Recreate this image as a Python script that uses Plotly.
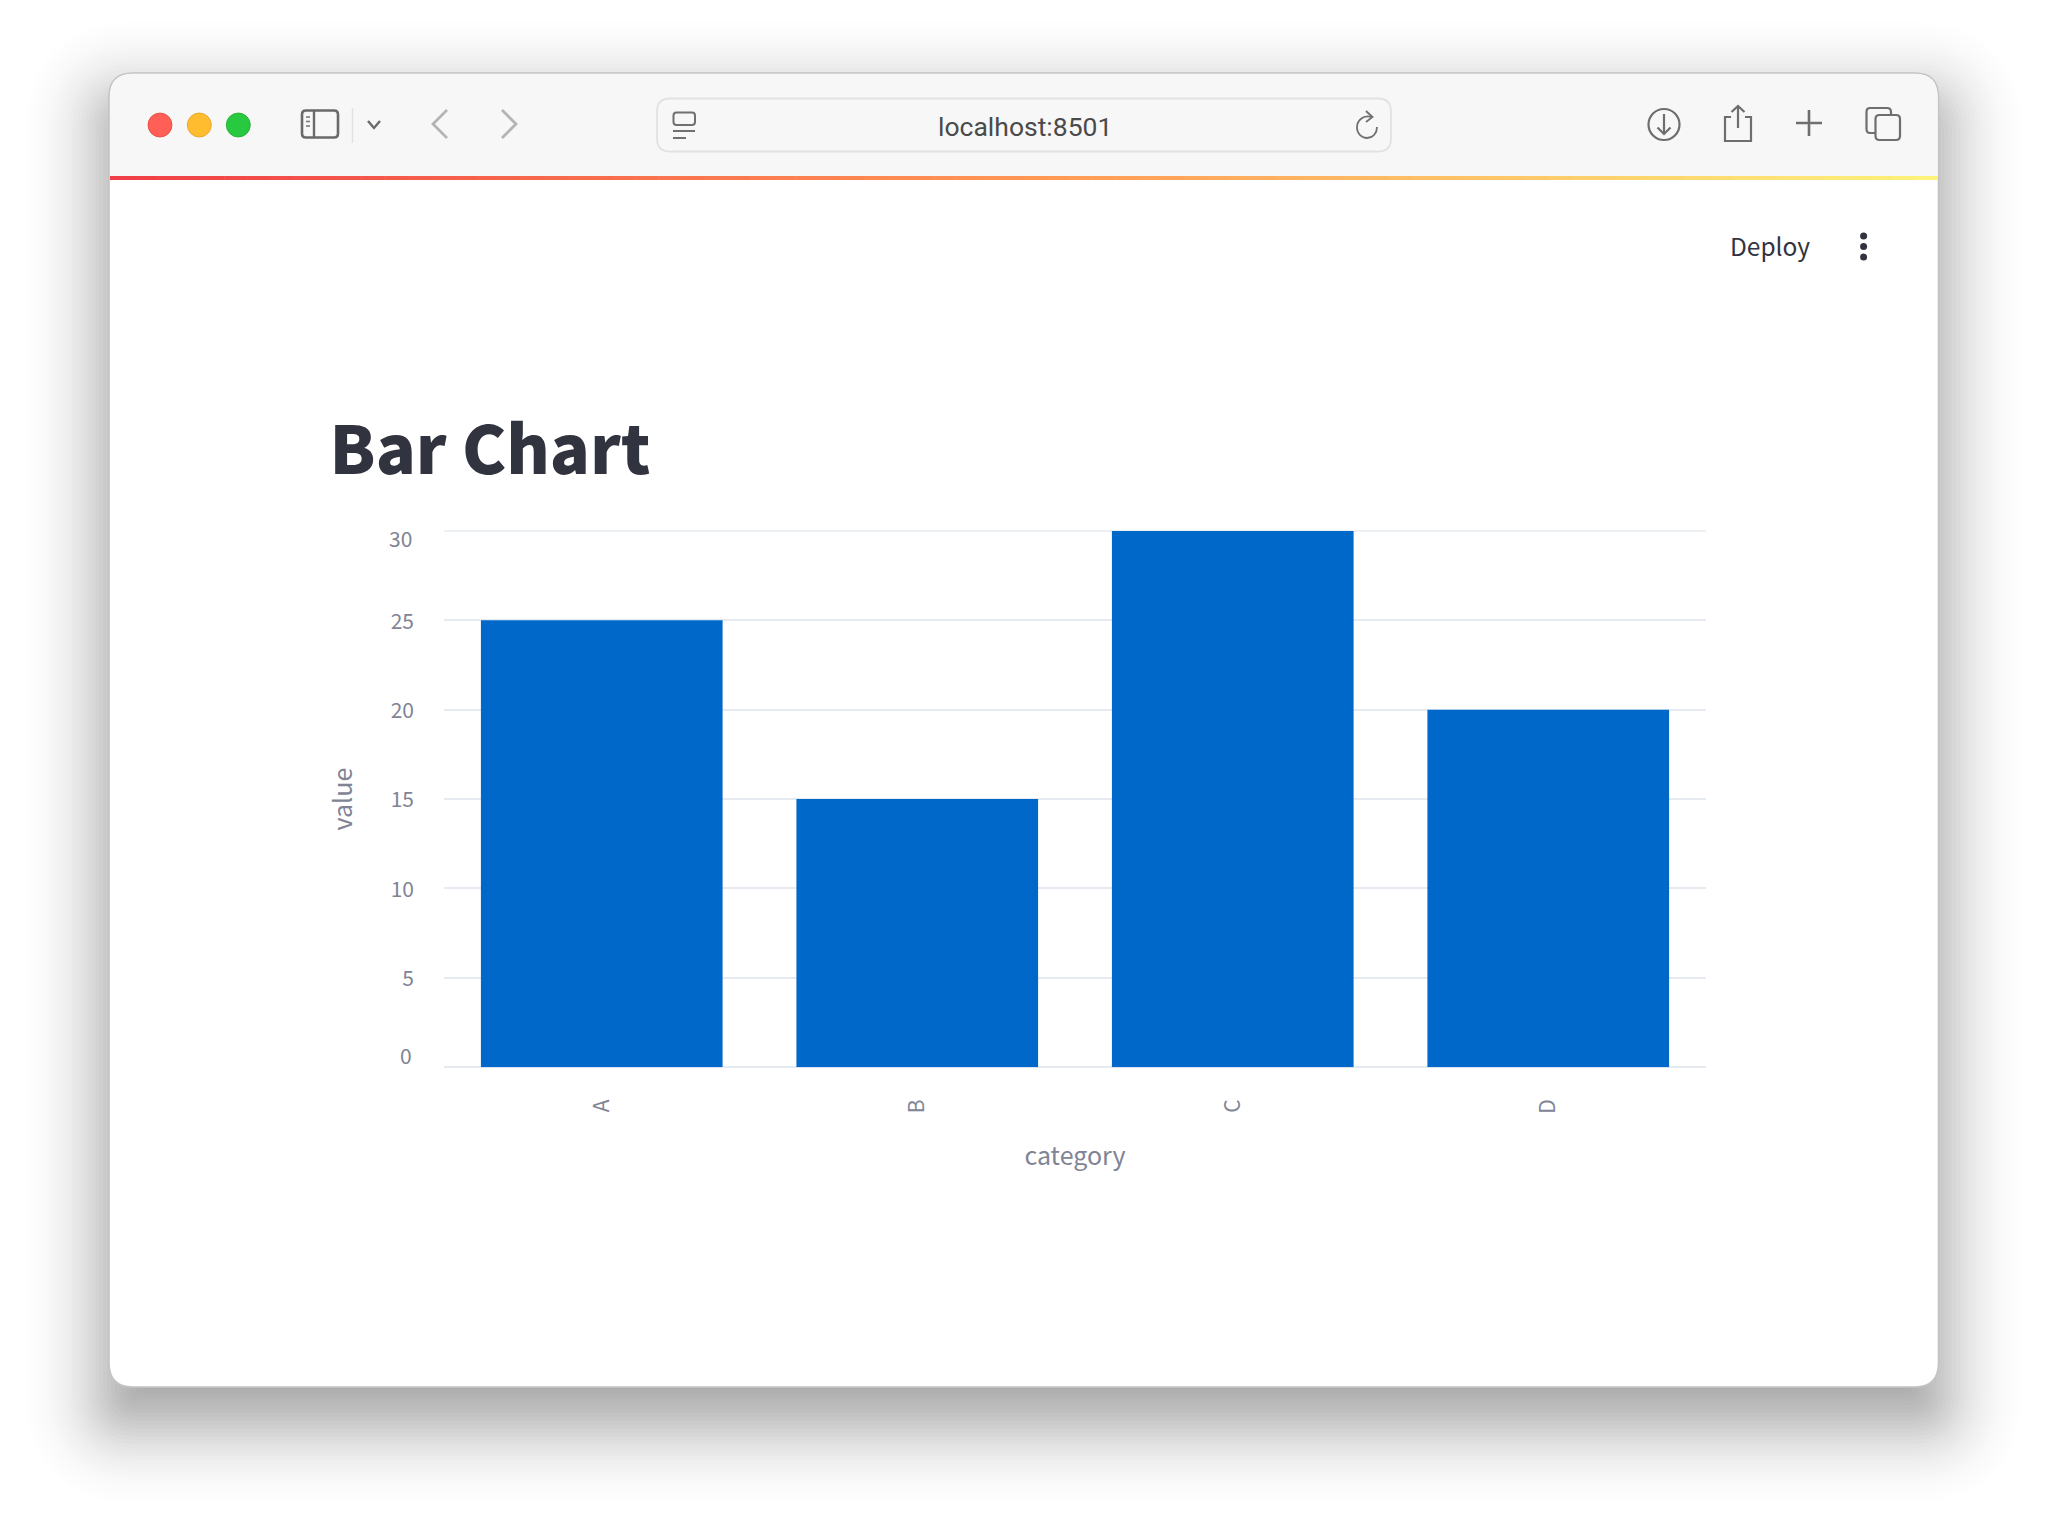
import math
import re
import plotly.graph_objects as go

# ---- chart data ----
categories = ["A", "B", "C", "D"]
values = [25, 15, 30, 20]
y_ticks = [0, 5, 10, 15, 20, 25, 30]
y_tick_labels = ["", "5", "10", "15", "20", "25", ""]
flush_ticks = [0, 30]
title_text = "Bar Chart"
x_title = "category"
y_title = "value"
url_text = "localhost:8501"
deploy_text = "Deploy"

# ---- style ----
W, H = 2048, 1532
FONT = "Noto Sans CJK SC"
BAR = "#0068c9"
GRID = "#e6eaf1"
LABEL = "#808495"
INK = "#31333f"
ICON = "#6e6e6e"
WIN = (109, 73, 1938.5, 1387)


def fx(x):
    return round(x / W, 6)


def fy(y):
    return round(1 - y / H, 6)


def pth(s):
    out, isx = [], True
    for t in re.findall(r"[A-Za-z]|-?[\d.]+", s):
        if t.isalpha():
            out.append(t)
            isx = True
        else:
            out.append(str(fx(float(t)) if isx else fy(float(t))))
            isx = not isx
    return " ".join(out)


def rr(x0, y0, x1, y1, r):
    return pth(
        f"M {x0+r} {y0} L {x1-r} {y0} Q {x1} {y0} {x1} {y0+r} L {x1} {y1-r} "
        f"Q {x1} {y1} {x1-r} {y1} L {x0+r} {y1} Q {x0} {y1} {x0} {y1-r} "
        f"L {x0} {y0+r} Q {x0} {y0} {x0+r} {y0} Z"
    )


shapes = []


def fill_path(path, color, opacity=1.0):
    shapes.append(dict(type="path", xref="paper", yref="paper", path=path, fillcolor=color,
                       opacity=opacity, line=dict(width=0), layer="below"))


def stroke(path, color=ICON, width=2.2, fill="rgba(0,0,0,0)"):
    shapes.append(dict(type="path", xref="paper", yref="paper", path=path, fillcolor=fill,
                       line=dict(color=color, width=width), layer="below"))


def circle(cx, cy, r, color, line=None, width=0):
    shapes.append(dict(type="circle", xref="paper", yref="paper",
                       x0=fx(cx - r), x1=fx(cx + r), y0=fy(cy + r), y1=fy(cy - r),
                       fillcolor=color, line=dict(color=line or color, width=width), layer="below"))


# window shadow, as a stack of soft rounded rectangles
sigma, peak, off, n = 42, 0.45, 32, 60
phi = lambda z: 0.5 * (1 + math.erf(z / math.sqrt(2)))
for i in range(n):
    z0 = 2.8 - 5.6 * i / n
    z1 = 2.8 - 5.6 * (i + 1) / n
    a = peak * (phi(-z1) - phi(-z0))
    d = sigma * (z0 + z1) / 2
    fill_path(rr(WIN[0] - d, WIN[1] + off - d, WIN[2] + d, WIN[3] + off + d, max(8, 30 + d)), "#000000", a)

# window body and toolbar
x0, y0, x1, y1 = WIN
stroke(rr(x0, y0, x1, y1, 24), "#c4c4c4", 1.6, "#ffffff")
fill_path(pth(f"M {x0+24} {y0+1} L {x1-24} {y0+1} Q {x1-1} {y0+1} {x1-1} {y0+24} L {x1-1} 177 L {x0+1} 177 L {x0+1} {y0+24} Q {x0+1} {y0+1} {x0+24} {y0+1} Z"), "#f7f7f7")

# gradient strip under the toolbar
stops = [(0.0, (240, 62, 70)), (0.5, (255, 150, 84)), (1.0, (253, 243, 122))]
segs = 80
for i in range(segs):
    t = (i + 0.5) / segs
    a, b = (stops[0], stops[1]) if t < 0.5 else (stops[1], stops[2])
    u = (t - a[0]) / (b[0] - a[0])
    c = tuple(round(a[1][k] + (b[1][k] - a[1][k]) * u) for k in range(3))
    xa = x0 + 1 + (x1 - x0 - 2) * i / segs
    xb = x0 + 1 + (x1 - x0 - 2) * (i + 1) / segs + 0.5
    fill_path(pth(f"M {xa} 176 L {xb} 176 L {xb} 180 L {xa} 180 Z"), f"rgb{c}")

# traffic lights
circle(160, 125, 12, "#ff5f57", "#e2463f", 0.8)
circle(199.3, 125, 12, "#febc2e", "#dfa023", 0.8)
circle(238.3, 125, 12, "#28c840", "#1aab29", 0.8)

# sidebar button, separator, chevrons
stroke(rr(302, 110.5, 338, 137.5, 4), "#6a6a6a", 2.6)
stroke(pth("M 314 111 L 314 137"), "#6a6a6a", 2.4)
for yy in (117, 121.5, 126):
    stroke(pth(f"M 306 {yy} L 310 {yy}"), "#7a7a7a", 1.6)
stroke(pth("M 352.5 108 L 352.5 143"), "#e2e2e2", 1.4)
stroke(pth("M 368 121 L 374 128 L 380 121"), "#6a6a6a", 2.4)
stroke(pth("M 447 110 L 433 124 L 447 138"), "#b4b4b4", 2.8)
stroke(pth("M 502 110 L 516 124 L 502 138"), "#b4b4b4", 2.8)

# address bar
stroke(rr(657, 98.5, 1391, 151.5, 13), "#e2e2e2", 1.8, "#f7f7f7")
stroke(rr(673.5, 112.5, 695, 125, 3), "#707070", 2)
stroke(pth("M 673 131 L 695 131"), "#707070", 2)
stroke(pth("M 673 138 L 686 138"), "#707070", 2)
stroke(pth("M 1372 117 C 1362 114 1357 122 1357 127 C 1357 134 1362 138 1367 138 C 1373 138 1377 133 1377 127"), "#707070", 1.8)
stroke(pth("M 1366 111 L 1372.5 117 L 1366 122"), "#707070", 1.8)

# toolbar buttons
circle(1664, 124.5, 15.5, "rgba(0,0,0,0)", ICON, 2.2)
stroke(pth("M 1664 114 L 1664 134 M 1657.5 127.5 L 1664 134 L 1670.5 127.5"))
stroke(pth("M 1731 117 L 1725 117 L 1725 141 L 1751 141 L 1751 117 L 1745 117"))
stroke(pth("M 1738 128 L 1738 106 M 1731.5 112 L 1738 106 L 1744.5 112"))
stroke(pth("M 1809 110 L 1809 136 M 1796 123 L 1822 123"), ICON, 2.6)
stroke(pth("M 1876 133 L 1870 133 Q 1866.5 133 1866.5 129 L 1866.5 112 Q 1866.5 108 1870 108 L 1887 108 Q 1891 108 1891 112 L 1891 115"))
stroke(rr(1875.5, 115, 1900, 140, 4))

# streamlit menu dots
for yy in (236, 246.5, 257):
    circle(1863.6, yy, 3.5, INK)

# gridline at the top of the range (plotly drops the one that sits on the range end)
stroke(pth("M 444 531 L 1706 531"), GRID, 1.6)


def note(text, x, y, size, color, **kw):
    return dict(text=text, xref="paper", yref="paper", x=fx(x), y=fy(y), showarrow=False,
                xanchor="center", yanchor="middle", font=dict(family=kw.pop("family", FONT), size=size, color=color), **kw)


annotations = [
    note(url_text, 1025, 127, 26.5, "#4a4a4a", family="Roboto"),
    note(deploy_text, 1769.5, 246, 24.5, INK),
]
# the lowest and highest value labels sit flush inside the axis range
for v, shift in zip(flush_ticks, (12, -7)):
    annotations.append(dict(text=str(v), xref="paper", yref="y", x=fx(414), y=v, yshift=shift, showarrow=False,
                            xanchor="right", yanchor="middle", font=dict(family=FONT, size=21, color=LABEL)))

fig = go.Figure(go.Bar(x=categories, y=values, marker=dict(color=BAR, line=dict(width=0)), hoverinfo="skip"))

fig.update_layout(
    width=W, height=H,
    margin=dict(l=0, r=0, t=0, b=0, pad=0),
    paper_bgcolor="#ffffff", plot_bgcolor="rgba(0,0,0,0)",
    showlegend=False, bargap=0.234,
    font=dict(family=FONT),
    title=dict(text=title_text, xref="paper", yref="paper", x=fx(329.5), y=fy(451),
               xanchor="left", yanchor="middle", pad=dict(l=0, r=0, t=0, b=0),
               font=dict(family=FONT, size=66.4, color=INK, weight=900)),
    shapes=shapes, annotations=annotations,
    xaxis=dict(domain=[fx(444), fx(1706)], range=[-0.5, 3.5], type="category",
               tickangle=-90, ticks="", ticklabelstandoff=27,
               tickfont=dict(family=FONT, size=21, color=LABEL),
               showgrid=False, showline=False, zeroline=False,
               title=dict(text=x_title, standoff=34, font=dict(family=FONT, size=25, color=LABEL))),
    yaxis=dict(domain=[fy(1067.2), fy(531)], range=[0, 30], tickmode="array", tickvals=y_ticks,
               ticktext=y_tick_labels, ticks="", ticklabelstandoff=29, ticklabelshift=1,
               tickfont=dict(family=FONT, size=21, color=LABEL),
               showgrid=True, gridcolor=GRID, gridwidth=1.6,
               zeroline=True, zerolinecolor=GRID, zerolinewidth=1.6, showline=False,
               title=dict(text=y_title, standoff=30, font=dict(family=FONT, size=25, color=LABEL))),
)

fig.write_html("out.html", post_script="document.body.style.margin='0';document.documentElement.style.overflow='hidden';",
               config=dict(displayModeBar=False))
